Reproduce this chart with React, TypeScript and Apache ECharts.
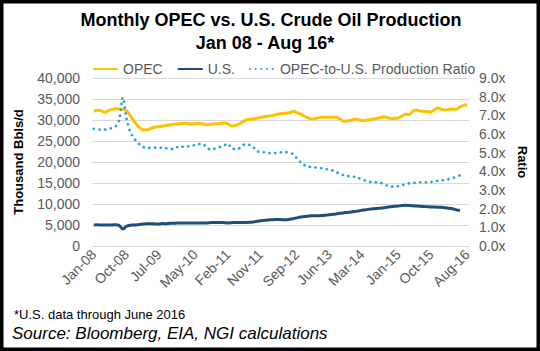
import React, { useEffect, useRef } from "react";
import * as echarts from "echarts";

const MONTH_NAMES = ["Jan", "Feb", "Mar", "Apr", "May", "Jun", "Jul", "Aug", "Sep", "Oct", "Nov", "Dec"];
const months: string[] = [];
for (let y = 8; y <= 16; y++) {
  for (let m = 0; m < 12; m++) {
    if (y === 16 && m > 7) break;
    months.push(`${MONTH_NAMES[m]}-${String(y).padStart(2, "0")}`);
  }
}

const tickLabels = ["Jan-08", "Oct-08", "Jul-09", "May-10", "Feb-11", "Nov-11", "Sep-12", "Jun-13", "Mar-14", "Jan-15", "Oct-15", "Aug-16"];

const opec = [
  32060, 32300, 32220, 31830, 32220, 32540, 32700, 32620, 32540, 32220,
  31110, 29840, 28730, 27940, 27620, 27700, 28100, 28330, 28410, 28570,
  28730, 28890, 28970, 29050, 29130, 29200, 29130, 29050, 29130, 29200,
  29130, 28890, 28970, 29050, 29130, 29200, 29290, 29050, 28570, 28650,
  29050, 29520, 30000, 30160, 30240, 30400, 30630, 30790, 30870, 31030,
  31190, 31430, 31550, 31590, 31750, 32060, 31750, 31430, 30950, 30560,
  30240, 30320, 30560, 30630, 30630, 30630, 30710, 30630, 30160, 29680,
  29840, 29920, 30240, 30080, 29840, 29920, 30000, 30240, 30360, 30560,
  30790, 30560, 30320, 30400, 30480, 30950, 31350, 31270, 32060, 32380,
  32140, 32060, 31980, 31900, 32460, 32860, 32540, 32380, 32540, 32620,
  32540, 33100, 33490, 33650,
];

const us = [
  5000, 5050, 5000, 5020, 5000, 5000, 5080, 4900, 4050, 4700,
  4950, 5000, 5050, 5200, 5250, 5300, 5300, 5250, 5250, 5350,
  5300, 5400, 5400, 5450, 5450, 5500, 5500, 5500, 5450, 5480,
  5500, 5500, 5550, 5600, 5620, 5600, 5550, 5500, 5550, 5600,
  5600, 5600, 5620, 5650, 5700, 5900, 6000, 6100, 6200, 6250,
  6300, 6300, 6270, 6250, 6350, 6500, 6700, 6900, 7000, 7100,
  7200, 7220, 7220, 7250, 7350, 7450, 7550, 7650, 7800, 7900,
  8000, 8100, 8200, 8350, 8500, 8650, 8750, 8850, 8950, 9000,
  9100, 9250, 9350, 9450, 9550, 9620, 9680, 9650, 9600, 9500,
  9440, 9400, 9350, 9300, 9280, 9250, 9200, 9100, 9000, 8850,
  8600, 8450,
];

const ratio = [
  6.27, 6.25, 6.23, 6.23, 6.27, 6.32, 6.41, 6.75, 7.95, 6.86,
  6.14, 5.79, 5.57, 5.38, 5.28, 5.25, 5.27, 5.27, 5.26, 5.27,
  5.24, 5.2, 5.18, 5.3, 5.34, 5.3, 5.34, 5.38, 5.41, 5.45,
  5.48, 5.3, 5.18, 5.2, 5.25, 5.32, 5.4, 5.48, 5.22, 5.2,
  5.22, 5.4, 5.44, 5.41, 5.3, 5.07, 5.05, 5.02, 4.98, 4.98,
  4.98, 5.0, 5.02, 5.03, 5.0, 4.91, 4.71, 4.5, 4.34, 4.25,
  4.23, 4.21, 4.18, 4.16, 4.12, 4.09, 4.04, 3.95, 3.84, 3.79,
  3.75, 3.73, 3.7, 3.64, 3.55, 3.5, 3.45, 3.39, 3.41, 3.38,
  3.34, 3.23, 3.18, 3.2, 3.2, 3.25, 3.3, 3.36, 3.38, 3.39,
  3.41, 3.41, 3.41, 3.43, 3.46, 3.5, 3.52, 3.55, 3.59, 3.64,
  3.71, 3.79,
];

const FONT = '"Liberation Sans", Arial, Helvetica, sans-serif';
const GRAY = "#595959";

function txt(text: string, x: number, y: number, font: string, fill: string, align = "center", rotation = 0) {
  return {
    type: "text",
    x,
    y,
    rotation,
    silent: true,
    style: {
      text,
      font,
      fill,
      align,
      verticalAlign: "middle",
      textAlign: align,
      textVerticalAlign: "middle",
    },
  };
}

export default function App() {
  const ref = useRef<HTMLDivElement>(null);
  useEffect(() => {
    const chart = echarts.init(ref.current!, null, { renderer: "svg" });
    chart.setOption({
      animation: false,
      backgroundColor: "#fff",
      textStyle: { fontFamily: FONT },
      grid: { left: 92, right: 71, top: 78, bottom: 105, containLabel: false },
      legend: {
        top: 57,
        left: 87,
        itemWidth: 25,
        itemHeight: 14,
        itemGap: 14,
        itemStyle: { opacity: 0, color: "rgba(0,0,0,0)", borderWidth: 0 },
        textStyle: { color: GRAY, fontSize: 14, fontFamily: FONT },
        data: ["OPEC", "U.S.", "OPEC-to-U.S. Production Ratio"],
      },
      xAxis: {
        type: "category",
        data: months,
        boundaryGap: true,
        axisLine: { lineStyle: { color: "#d9d9d9", width: 1 } },
        axisTick: { show: false },
        axisLabel: {
          rotate: 45,
          interval: (_i: number, v: string) => tickLabels.includes(v),
          color: GRAY,
          fontSize: 14,
          fontFamily: FONT,
          margin: 6,
        },
        splitLine: { show: false },
      },
      yAxis: [
        {
          type: "value",
          min: 0,
          max: 40000,
          interval: 5000,
          axisLine: { show: false },
          axisTick: { show: false },
          axisLabel: {
            formatter: (v: number) => v.toLocaleString("en-US"),
            color: GRAY,
            fontSize: 14,
            fontFamily: FONT,
            margin: 12,
          },
          splitLine: { lineStyle: { color: "#d9d9d9", width: 1 } },
        },
        {
          type: "value",
          position: "right",
          min: 0,
          max: 9,
          interval: 1,
          axisLine: { show: false },
          axisTick: { show: false },
          axisLabel: {
            formatter: (v: number) => `${v.toFixed(1)}x`,
            color: GRAY,
            fontSize: 14,
            fontFamily: FONT,
            margin: 10,
          },
          splitLine: { show: false },
        },
      ],
      series: [
        {
          name: "OPEC",
          type: "line",
          data: opec,
          symbol: "none",
          smooth: 0.3,
          color: "#FFC000",
          lineStyle: { width: 3, color: "#FFC000" },
        },
        {
          name: "U.S.",
          type: "line",
          data: us,
          symbol: "none",
          smooth: 0.3,
          color: "#1F4E79",
          lineStyle: { width: 3, color: "#1F4E79" },
        },
        {
          name: "OPEC-to-U.S. Production Ratio",
          type: "line",
          yAxisIndex: 1,
          data: ratio,
          symbol: "none",
          smooth: 0.3,
          color: "#21A6DB",
          lineStyle: { width: 2.7, color: "#21A6DB", type: [0.1, 5.6], cap: "round" },
        },
      ],
      graphic: [
        txt("Monthly OPEC vs. U.S. Crude Oil Production", 271, 20, `bold 18px ${FONT}`, "#000"),
        txt("Jan 08 - Aug 16*", 265, 43, `bold 18px ${FONT}`, "#000"),
        txt("Thousand Bbls/d", 18, 162, `bold 13px ${FONT}`, "#000", "center", Math.PI / 2),
        txt("Ratio", 522, 162, `bold 13px ${FONT}`, "#000", "center", -Math.PI / 2),
        txt("*U.S. data through June 2016", 14, 314, `13px ${FONT}`, "#000", "left"),
        txt("Source: Bloomberg, EIA, NGI calculations", 12, 333, `italic 17px ${FONT}`, "#000", "left"),
        {
          type: "rect",
          silent: true,
          z: 100,
          shape: { x: 0, y: 0, width: 540, height: 351 },
          style: { fill: "none", stroke: "#000", lineWidth: 7 },
        },
      ],
    });
    return () => chart.dispose();
  }, []);
  return (
    <div
      ref={ref}
      style={{ position: "absolute", left: 0, top: 0, width: 540, height: 351, background: "#fff" }}
    />
  );
}
